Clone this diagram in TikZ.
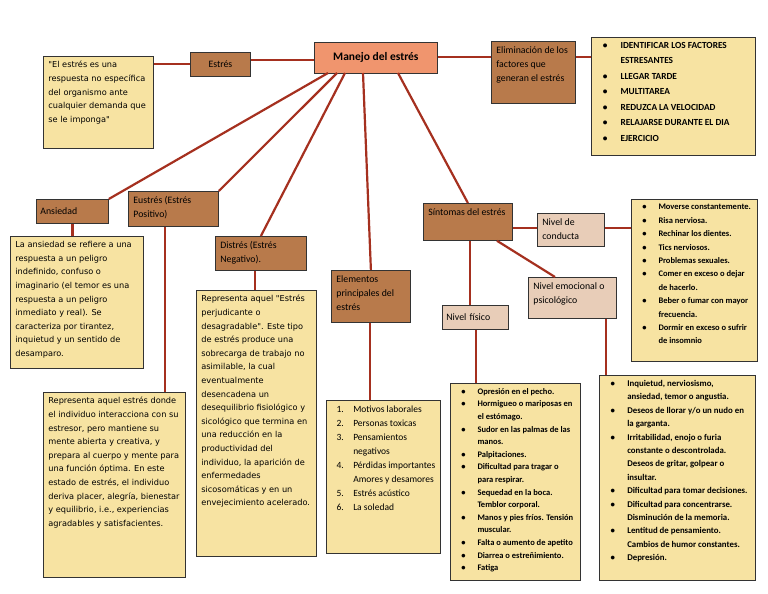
\documentclass[tikz,border=0pt]{standalone}
\usepackage{fontspec}
\setmainfont{Carlito}
\newfontfamily\parfont{DejaVu Sans}
\newenvironment{blist}{\begin{list}{\textbullet}{\leftmargin=2.6em\labelwidth=1em\labelsep=1.4em\itemsep=0pt\parsep=0pt\topsep=0pt\partopsep=0pt}}{\end{list}}
\newenvironment{nlist}{\begin{list}{\arabic{enumi}.}{\usecounter{enumi}\leftmargin=2.3em\labelwidth=1.2em\labelsep=1em\itemsep=0pt\parsep=0pt\topsep=0pt\partopsep=0pt}}{\end{list}}
\newcommand\tb[3]{\parbox[c][#1pt][t]{#2pt}{\raggedright\hyphenpenalty=10000\exhyphenpenalty=10000 #3}}
\definecolor{brn}{HTML}{B87A4B}
\definecolor{salm}{HTML}{F0956E}
\definecolor{pale}{HTML}{E8CDB8}
\definecolor{yel}{HTML}{F7E3A2}
\definecolor{ln}{HTML}{A5301F}
\tikzset{
 box/.style={draw=black!80,line width=0.8pt,anchor=north west,inner sep=5pt,align=left,font=\fontsize{9.8}{14}\selectfont},
 dark/.style={box,fill=brn},
 light/.style={box,fill=pale},
 note/.style={draw=black!80,line width=0.8pt,anchor=north west,inner sep=5pt,fill=yel,align=left},
 pf/.style={font=\parfont\fontsize{8.2}{13.6}\selectfont},
 con/.style={draw=ln,line width=2.2pt}
}
\begin{document}
\begin{tikzpicture}[x=1pt,y=-1pt]
\useasboundingbox (0,0) rectangle (768,594);
\node[dark,fill=salm,minimum width=123pt,minimum height=31pt,inner sep=0pt,align=center,font=\bfseries\fontsize{11.5}{13}\selectfont] (man) at (314,42) {Manejo del estrés};
\node[dark,minimum width=60pt,minimum height=24pt,inner sep=0pt,align=center] (est) at (190,52) {Estrés};
\node[note,pf] (quote) at (43,56) {\tb{82}{100}{"El estrés es una respuesta no específica del organismo ante cualquier demanda que se le imponga"}};
\node[dark] (eli) at (491,41) {\tb{52}{74}{Eliminación de los factores que generan el estrés}};
\node[note,font=\bfseries\fontsize{9.3}{15.5}\selectfont] (elil) at (591,37) {\tb{108}{154}{\begin{blist}\item IDENTIFICAR LOS FACTORES ESTRESANTES\item LLEGAR TARDE\item MULTITAREA\item REDUZCA LA VELOCIDAD\item RELAJARSE DURANTE EL DIA\item EJERCICIO\end{blist}}};
\node[dark,minimum width=72pt,minimum height=24pt,inner sep=0pt,text width=64pt] (ans) at (36,199) {Ansiedad};
\node[note,pf] (ansl) at (10,236) {\tb{122}{123}{La ansiedad se refiere a una respuesta a un peligro indefinido, confuso o imaginario (el temor es una respuesta a un peligro inmediato y real). Se caracteriza por tirantez, inquietud y un sentido de desamparo.}};
\node[dark] (eus) at (128,191) {\tb{25}{80}{Eustrés (Estrés Positivo)}};
\node[note,pf] (eusl) at (43,392) {\tb{175}{132}{Representa aquel estrés donde el individuo interacciona con su estresor, pero mantiene su mente abierta y creativa, y prepara al cuerpo y mente para una función óptima. En este estado de estrés, el individuo deriva placer, alegría, bienestar y equilibrio, i.e., experiencias agradables y satisfacientes.}};
\node[dark] (dis) at (215,236) {\tb{24}{81}{Distrés (Estrés Negativo).}};
\node[note,pf] (disl) at (196,290) {\tb{256}{110}{Representa aquel "Estrés perjudicante o desagradable". Este tipo de estrés produce una sobrecarga de trabajo no asimilable, la cual eventualmente desencadena un desequilibrio fisiológico y sicológico que termina en una reducción en la productividad del individuo, la aparición de enfermedades sicosomáticas y en un envejecimiento acelerado.}};
\node[dark] (ele) at (331,270) {\tb{42}{69}{Elementos principales del estrés}};
\node[note,font=\fontsize{9.5}{14}\selectfont] (elel) at (326,400) {\tb{143}{104}{\begin{nlist}\item Motivos laborales\item Personas toxicas\item Pensamientos negativos\item Pérdidas importantes\\Amores y desamores\item Estrés acústico\item La soledad\end{nlist}}};
\node[dark] (sin) at (423,203) {\tb{27}{79}{Síntomas del estrés}};
\node[light] (con) at (537,213) {\tb{23}{57}{Nivel de conducta}};
\node[note,font=\bfseries\fontsize{8.5}{13.4}\selectfont] (conl) at (631,199) {\tb{152}{116}{\begin{blist}\item Moverse constantemente.\item Risa nerviosa.\item Rechinar los dientes.\item Tics nerviosos.\item Problemas sexuales.\item Comer en exceso o dejar de hacerlo.\item Beber o fumar con mayor frecuencia.\item Dormir en exceso o sufrir de insomnio\end{blist}}};
\node[light,minimum width=66pt,minimum height=24pt,inner sep=0pt,text width=58pt] (fis) at (442,305) {Nivel físico};
\node[light] (emo) at (528,277) {\tb{31}{78}{Nivel emocional o psicológico}};
\node[note,font=\bfseries\fontsize{8.5}{12.6}\selectfont] (fisl) at (450,383) {\tb{187}{120}{\begin{blist}\item Opresión en el pecho.\item Hormigueo o mariposas en el estómago.\item Sudor en las palmas de las manos.\item Palpitaciones.\item Dificultad para tragar o para respirar.\item Sequedad en la boca. Temblor corporal.\item Manos y pies fríos. Tensión muscular.\item Falta o aumento de apetito\item Diarrea o estreñimiento.\item Fatiga\end{blist}}};
\node[note,font=\bfseries\fontsize{8.8}{13.4}\selectfont] (emol) at (599,375) {\tb{195}{146}{\begin{blist}\item Inquietud, nerviosismo, ansiedad, temor o angustia.\item Deseos de llorar y/o un nudo en la garganta.\item Irritabilidad, enojo o furia constante o descontrolada. Deseos de gritar, golpear o insultar.\item Dificultad para tomar decisiones.\item Dificultad para concentrarse. Disminución de la memoria.\item Lentitud de pensamiento. Cambios de humor constantes.\item Depresión.\end{blist}}};
\path[con] (man.west|-0,60) -- (est.east|-0,60);
\path[con] (est.west|-0,64) -- (quote.east|-0,64);
\path[con] (man.east|-0,57) -- (eli.west|-0,57);
\path[con] (eli.east|-0,57) -- (elil.west|-0,57);
\coordinate (m1) at (328,73); \coordinate (m2) at (337,73); \coordinate (m3) at (345,73);
\coordinate (m4) at (363,73); \coordinate (m5) at (398,73);
\path[con] (m1) -- (ans.north east);
\path[con] (m2) -- (eus.north east);
\path[con] (m3) -- (dis.north);
\path[con] (m4) -- (ele.north);
\path[con] (m5) -- (sin.north);
\path[con] (ans.south) -- (ansl.north-|ans.south);
\path[con] (eus.south-|165,0) -- (eusl.north-|165,0);
\path[con] (dis.south-|255,0) -- (disl.north-|255,0);
\path[con] (ele.south-|370,0) -- (elel.north-|370,0);
\path[con] (sin.east|-0,228) -- (con.west|-0,228);
\path[con] (con.east|-0,228) -- (conl.west|-0,228);
\path[con] (sin.south-|470,0) -- (fis.north-|470,0);
\path[con] (sin.south-|497,0) -- (emo.north-|555,0);
\path[con] (fis.south-|476,0) -- (fisl.north-|476,0);
\path[con] (emo.south-|606,0) -- (emol.north-|606,0);
\end{tikzpicture}
\end{document}
